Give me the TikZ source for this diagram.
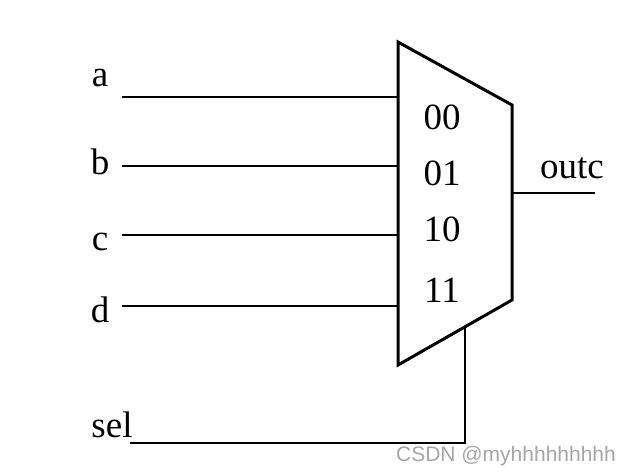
\documentclass[tikz,border=0pt]{standalone}
\usepackage{fontspec}
\setmainfont{Liberation Serif}
\newfontfamily\wmfont{Liberation Sans}
\begin{document}
\begin{tikzpicture}[x=1pt,y=-1pt,
  wire/.style={line width=2.4pt},
  lbl/.style={font=\fontsize{37}{37}\selectfont, inner sep=0pt}]
\useasboundingbox (0,0) rectangle (637,475);
\fill[white] (0,0) rectangle (637,475);
\coordinate (m1) at (398,42);
\coordinate (m2) at (512,105);
\coordinate (m3) at (512,300);
\coordinate (m4) at (398,365);
\draw[wire, line width=3pt] (m1) -- (m2) -- (m3) -- (m4) -- cycle;
\node[lbl] (la) at (100,78) {a};
\node[lbl] (lb) at (100,162) {b};
\node[lbl] (lc) at (100,242) {c};
\node[lbl] (ld) at (100,310) {d};
\coordinate (ia) at (398,97); \coordinate (ib) at (398,166);
\coordinate (ic) at (398,235); \coordinate (id) at (398,306);
\coordinate (sa) at (122,97); \coordinate (sb) at (122,166);
\coordinate (sc) at (122,235); \coordinate (sd) at (122,306);
\draw[wire] (sa) -- (ia); \draw[wire] (sb) -- (ib);
\draw[wire] (sc) -- (ic); \draw[wire] (sd) -- (id);
\node[lbl] (n0) at (442,117) {00};
\node[lbl] (n1) at (442,173) {01};
\node[lbl] (n2) at (442,229) {10};
\node[lbl] (n3) at (442,290) {11};
\coordinate (o1) at (512,193); \coordinate (o2) at (595,193);
\draw[wire] (o1) -- (o2);
\node[lbl] (lo) at (572,168) {outc};
\coordinate (s1) at (465,327); \coordinate (s2) at (465,443); \coordinate (s3) at (130,443);
\draw[wire] (s1) -- (s2) -- (s3);
\node[lbl] (ls) at (112,425) {sel};
\node[font=\wmfont\fontsize{21}{21}\selectfont, text=gray!70, inner sep=0pt] (wm) at (506,456) {CSDN @myhhhhhhhhh};
\end{tikzpicture}
\end{document}
